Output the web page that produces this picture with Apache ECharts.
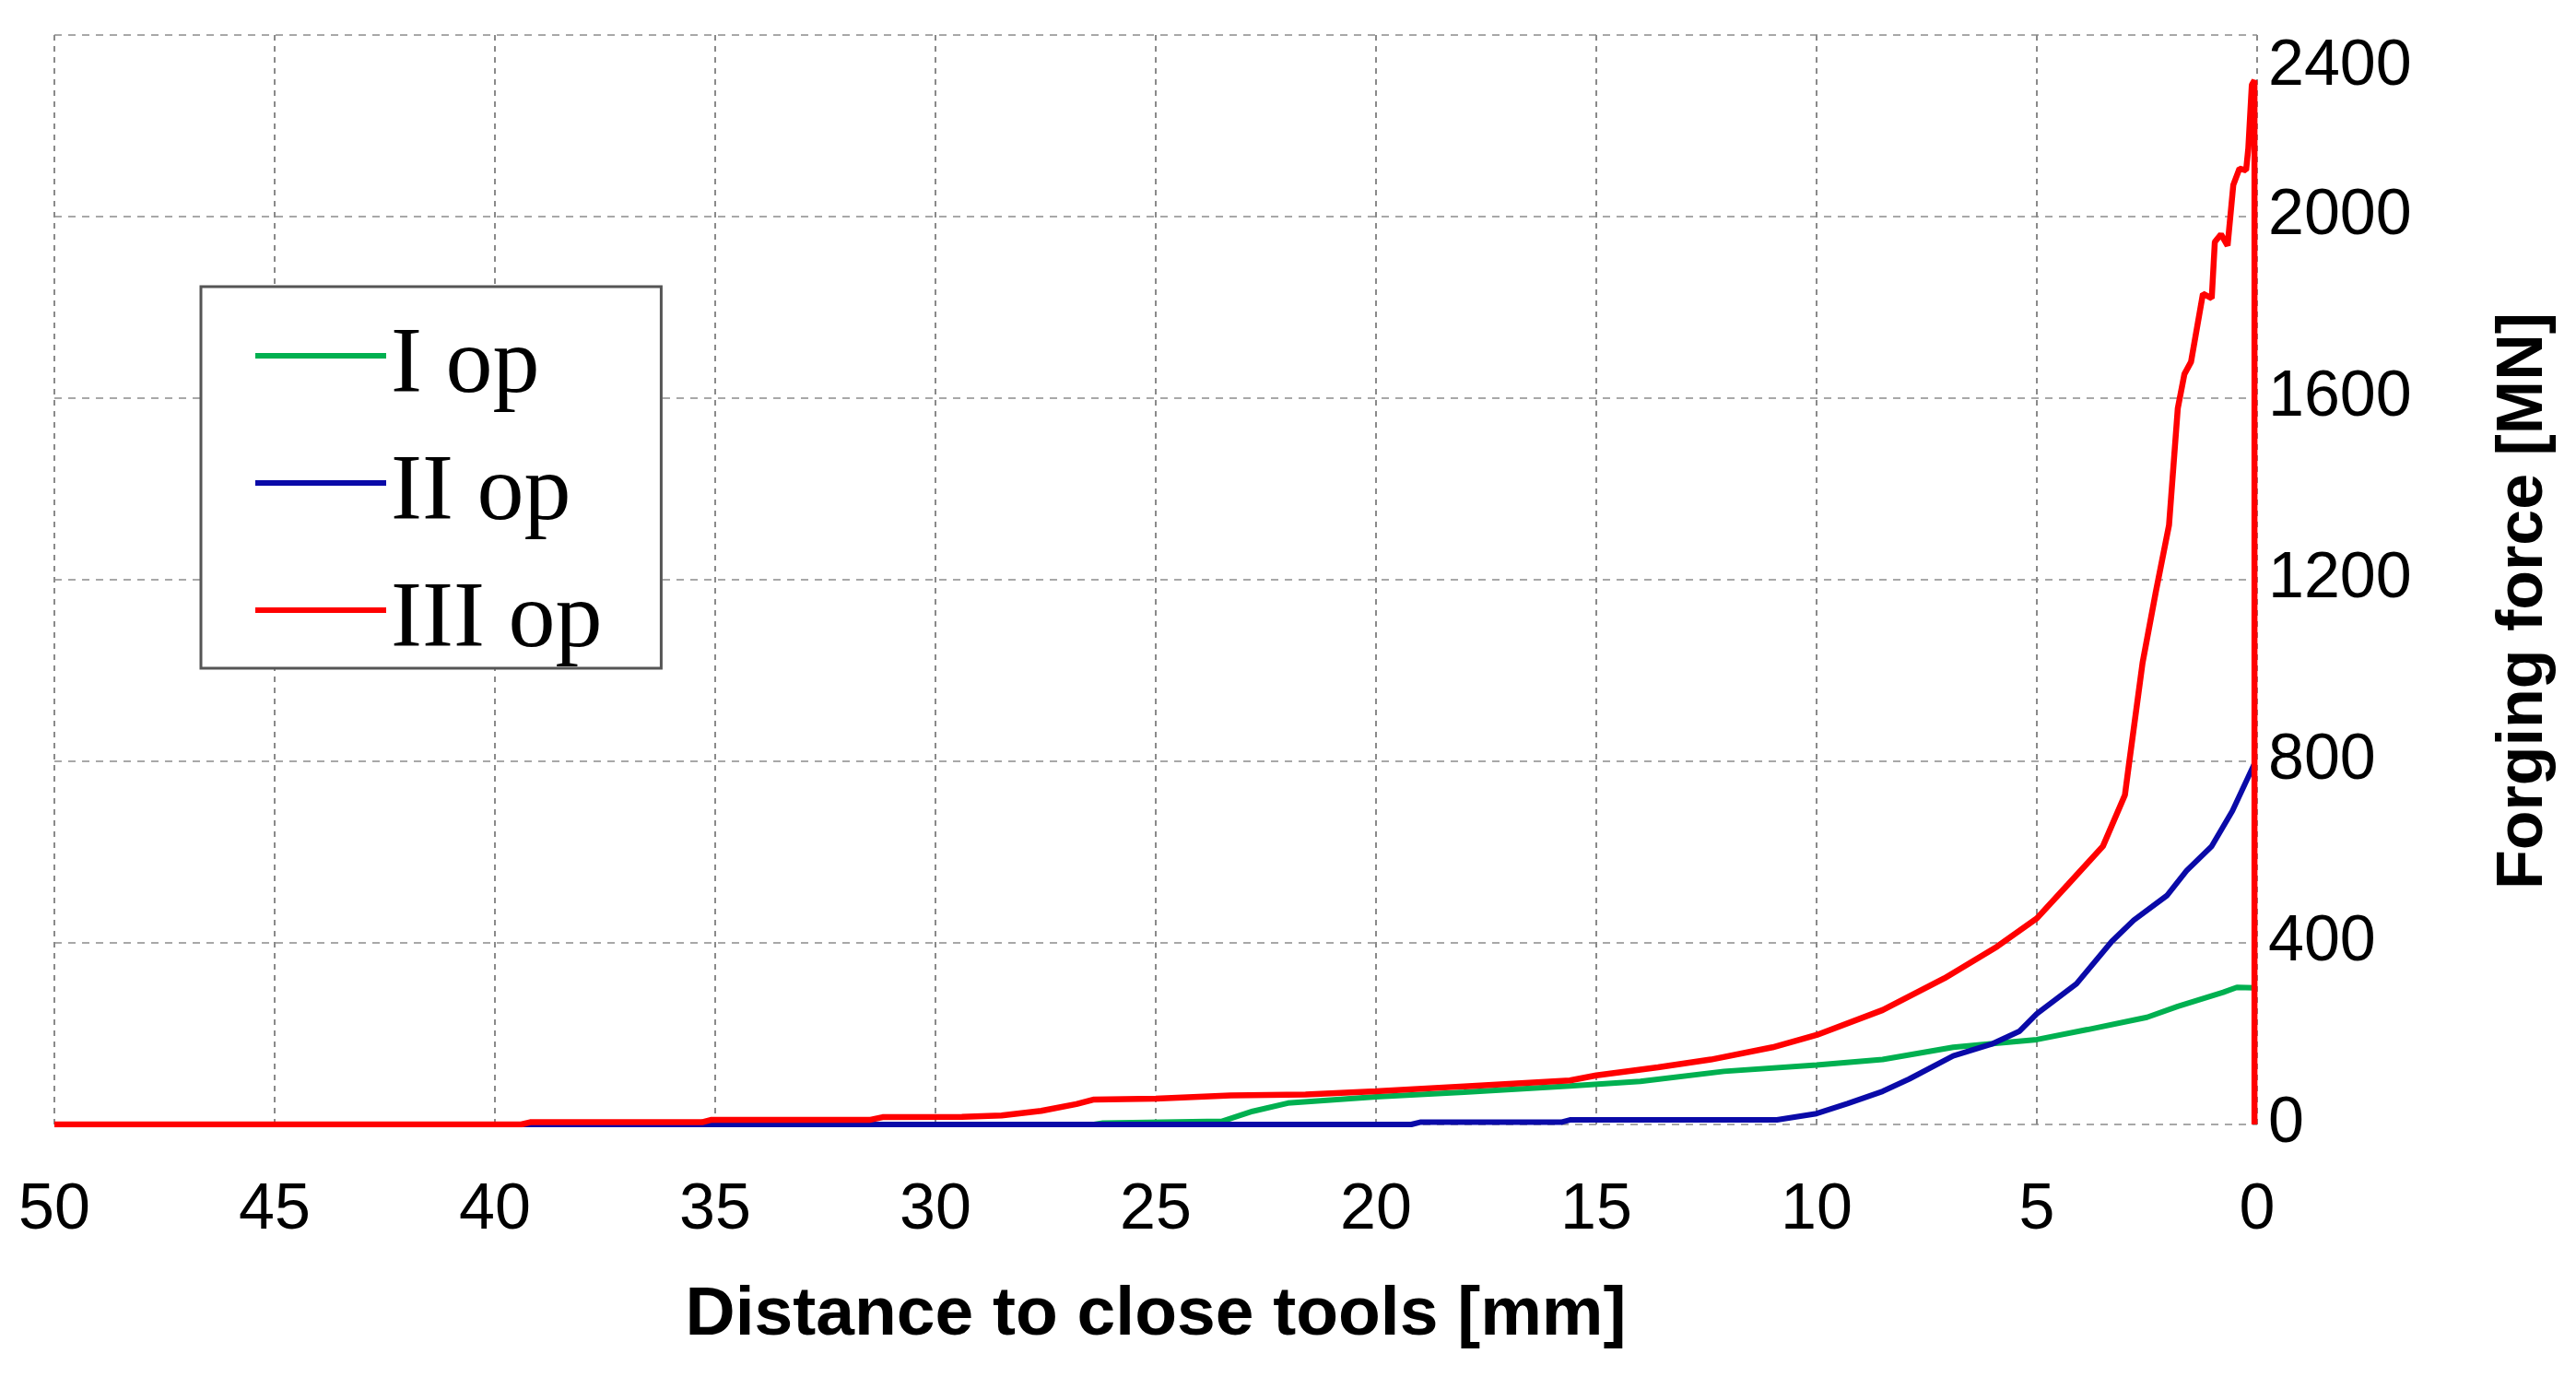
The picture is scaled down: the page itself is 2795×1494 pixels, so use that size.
<!DOCTYPE html>
<html>
<head>
<meta charset="utf-8">
<script src="https://cdn.jsdelivr.net/npm/echarts@6/dist/echarts.min.js"></script>
<style>
  html, body { margin: 0; padding: 0; background: #fff; }
  #chart { width: 2795px; height: 1494px; }
</style>
</head>
<body>
<div id="chart"></div>
<script>
// ---- Data (distance to close tools [mm], forging force [MN]) ----
const seriesNames = ['I op', 'II op', 'III op'];
const seriesColors = ['#00b050', '#0a0aa8', '#ff0000'];

const opI_dist  = [50, 26.4, 26.2, 23.5, 22.8, 22.0, 20.0, 18.0, 15.6, 14.0, 12.1, 10.0, 8.5, 6.9, 6.0, 5.0, 3.85, 2.5, 1.8, 0.77, 0.46, 0.06];
const opI_force = [0, 0, 3, 7, 29, 47, 61, 71, 85, 95, 117, 131, 143, 170, 178, 187, 209, 236, 260, 291, 302, 301];

const opII_dist  = [50, 19.2, 19.0, 15.8, 15.6, 10.9, 10.0, 9.3, 8.5, 7.9, 6.9, 6.0, 5.4, 5.0, 4.1, 3.3, 2.8, 2.05, 1.6, 1.03, 0.56, 0.06];
const opII_force = [0, 0, 5, 5, 10, 10, 24, 46, 73, 100, 151, 178, 205, 244, 310, 403, 450, 504, 559, 613, 691, 795];

const opIII_dist  = [50, 39.4, 39.2, 35.3, 35.1, 31.5, 31.2, 29.4, 28.5, 27.6, 26.8, 26.4, 25.0, 23.3, 21.6, 20.0, 18.0, 15.6, 15.0, 13.6, 12.4, 11.0, 10.0, 8.5, 7.1, 5.9, 5.0, 4.3, 3.5, 3.0, 2.9, 2.6, 2.3, 2.0, 1.8, 1.65, 1.5, 1.23, 1.03, 0.96, 0.82, 0.67, 0.54, 0.40, 0.25, 0.20, 0.12, 0.06, 0.06];
const opIII_force = [0, 0, 5, 5, 10, 10, 16, 17, 20, 30, 45, 55, 57, 64, 66, 73, 84, 97, 108, 126, 143, 170, 197, 252, 322, 392, 454, 528, 613, 726, 800, 1017, 1173, 1320, 1578, 1653, 1680, 1830, 1820, 1944, 1961, 1936, 2070, 2106, 2102, 2150, 2290, 2300, 0];

const xTicks = { min: 0, max: 50, interval: 5 };
const yTicks = { min: 0, max: 2400, interval: 400 };

function pairs(xs, ys) { return xs.map((x, i) => [x, ys[i]]); }

const chart = echarts.init(document.getElementById('chart'), null, { renderer: 'canvas' });

const seriesData = [pairs(opI_dist, opI_force), pairs(opII_dist, opII_force), pairs(opIII_dist, opIII_force)];

// legend sample: thin bar at the top of a taller (empty) icon box, so the label sits slightly below the bar
const legendIcon = 'path://M0,0L142,0L142,6L0,6Z M0,30L0.1,30L0,30Z';

chart.setOption({
  animation: false,
  backgroundColor: '#ffffff',
  grid: { left: 59, right: 346, top: 38, bottom: 274, containLabel: false },
  legend: {
    data: seriesNames,
    orient: 'vertical',
    left: 218,
    top: 311,
    backgroundColor: '#ffffff',
    borderColor: '#555555',
    borderWidth: 3,
    padding: [36, 64, 0, 59],
    itemWidth: 142,
    itemHeight: 30,
    itemGap: 36,
    icon: legendIcon,
    textStyle: { fontFamily: 'Liberation Serif', fontSize: 102, color: '#000' }
  },
  xAxis: {
    type: 'value',
    inverse: true,
    min: xTicks.min, max: xTicks.max, interval: xTicks.interval,
    name: 'Distance to close tools [mm]',
    nameLocation: 'middle',
    nameGap: 170,
    nameTextStyle: { fontFamily: 'Liberation Sans', fontWeight: 'bold', fontSize: 75, color: '#000' },
    axisLine: { show: false },
    axisTick: { show: false },
    axisLabel: { fontFamily: 'Liberation Sans', fontSize: 70, color: '#000', margin: 59 },
    splitLine: { show: true, lineStyle: { color: '#8a8a8a', width: 2, type: [6, 6] } }
  },
  yAxis: {
    type: 'value',
    position: 'right',
    min: yTicks.min, max: yTicks.max, interval: yTicks.interval,
    name: 'Forging force [MN]',
    nameLocation: 'middle',
    nameRotate: 90,
    nameGap: 255,
    nameTextStyle: { fontFamily: 'Liberation Sans', fontWeight: 'bold', fontSize: 70, color: '#000', padding: [0, 46, 0, 0] },
    axisLine: { show: false },
    axisTick: { show: false },
    axisLabel: { fontFamily: 'Liberation Sans', fontSize: 70, color: '#000', margin: 12, verticalAlignMaxLabel: 'top', formatter: (v) => String(v) },
    splitLine: { show: true, lineStyle: { color: '#a8a8a8', width: 2, type: [8, 7] } }
  },
  series: seriesNames.map((name, i) => ({
    name: name,
    type: 'line',
    data: seriesData[i],
    showSymbol: false,
    symbol: 'none',
    color: seriesColors[i],
    lineStyle: { color: seriesColors[i], width: i === 2 ? 6.5 : 6 },
    z: 2 + i
  }))
});
</script>
</body>
</html>
